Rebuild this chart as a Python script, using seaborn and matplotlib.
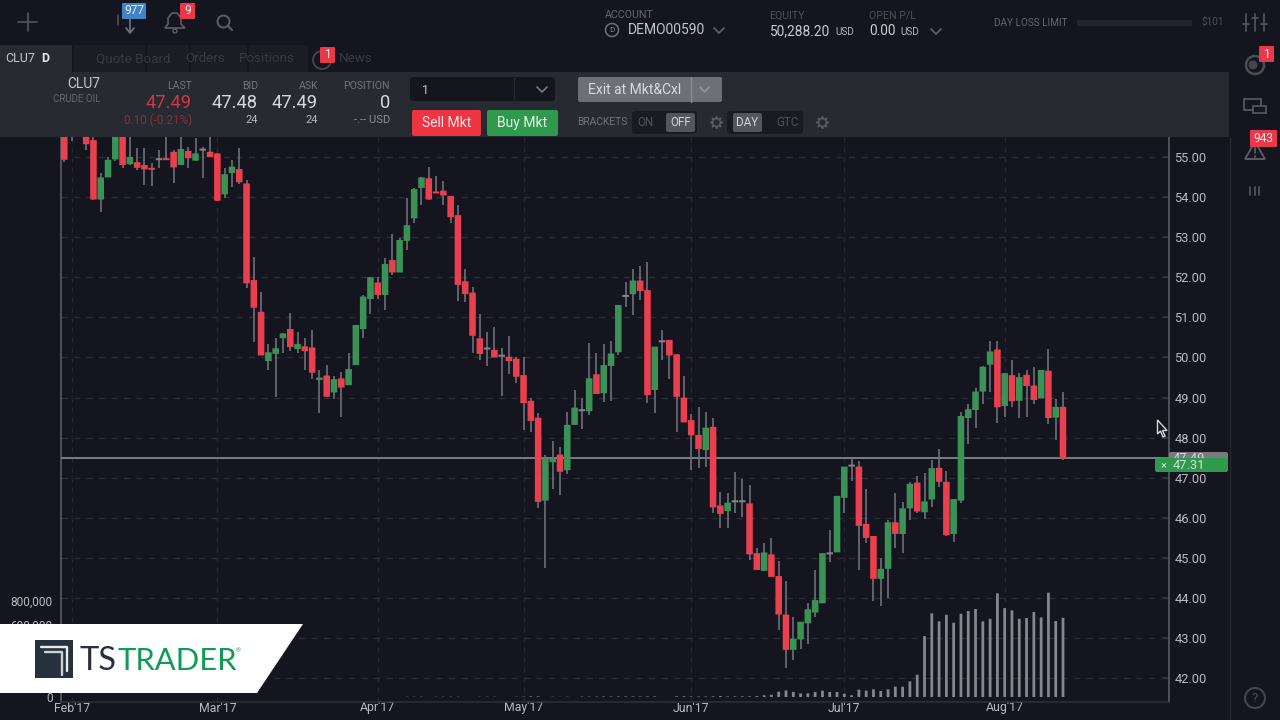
import numpy as np
import pandas as pd
import seaborn as sns
import matplotlib
matplotlib.use("Agg")
import matplotlib.pyplot as plt
from matplotlib.patches import Polygon, Rectangle, FancyBboxPatch, Circle

BG = "#14151e"
PANEL = "#272a31"
UP = "#3a9257"
DOWN = "#ea3f4e"
WICK = "#6f7079"
DOJI = "#84858c"
TXT = "#b9bbc0"

opens = [55.70,56.00,55.90,55.51,55.42,53.94,54.49,54.94,55.60,54.82,54.87,54.80,54.73,54.92,54.97,55.13,54.80,55.15,54.91,55.16,
         55.13,55.09,54.07,54.60,54.70,54.34,51.93,51.14,49.91,50.09,50.48,50.71,50.21,50.28,50.25,49.44,49.55,49.13,49.48,49.31,
         49.81,50.71,51.46,51.87,51.56,52.43,52.12,52.91,53.47,54.23,54.47,54.12,54.16,54.03,53.55,51.90,51.62,50.48,50.20,50.19,
         50.02,50.02,49.97,49.56,48.92,48.50,46.43,47.39,47.58,47.19,48.32,48.66,48.66,49.58,49.11,49.79,50.13,51.51,51.58,51.92,
         51.68,49.19,50.38,50.44,50.08,49.00,48.44,48.07,47.69,48.27,46.31,46.17,46.39,46.39,46.36,45.12,44.68,45.09,44.55,43.59,
         42.71,42.97,43.37,43.64,43.87,45.09,45.14,46.50,47.28,47.28,45.85,45.55,44.48,44.73,45.89,45.60,46.24,46.88,46.14,46.46,
         47.25,46.90,45.60,46.43,48.49,48.69,49.15,49.82,50.20,48.79,49.56,48.92,49.57,49.30,48.98,49.67,48.50,48.77]
closes = [54.93,55.80,55.80,55.32,53.94,54.49,54.93,55.60,54.80,55.00,54.73,54.69,54.68,54.92,54.92,54.74,55.20,54.97,55.09,55.16,
          55.00,53.91,54.57,54.76,54.37,51.85,51.24,50.05,50.13,50.23,50.60,50.26,50.34,50.16,49.62,49.50,49.02,49.46,49.25,49.71,
          50.81,51.52,52.00,51.56,52.33,52.12,52.93,53.30,54.20,54.49,53.94,54.09,54.04,53.50,51.81,51.58,50.54,50.09,50.20,50.00,
          50.02,49.91,49.52,48.86,48.42,46.40,47.47,47.50,47.15,48.32,48.75,48.66,49.48,49.09,49.81,50.10,51.31,51.51,51.92,51.66,
          49.06,50.27,50.38,50.05,49.02,48.38,48.06,47.72,48.25,46.26,46.10,46.38,46.39,46.39,45.09,44.70,45.14,44.53,43.59,42.71,
          42.99,43.41,43.72,43.95,45.12,45.09,46.55,47.28,47.28,45.80,45.50,44.48,44.73,45.89,45.60,46.24,46.85,46.16,46.41,47.24,
          46.90,45.57,46.47,48.54,48.71,49.15,49.77,50.15,48.76,49.61,48.91,49.51,49.29,48.94,49.69,48.49,48.77,47.48]
highs = [55.90,56.10,56.10,55.80,55.50,54.61,55.00,55.80,55.80,55.51,55.22,55.22,54.84,55.18,55.51,55.17,55.51,55.26,55.47,55.26,
         55.51,55.09,54.72,54.93,55.23,54.43,52.51,51.64,50.33,50.48,50.62,51.10,50.64,50.49,50.69,49.69,49.81,49.55,49.63,50.10,
         50.81,51.56,52.00,52.00,52.47,53.08,52.97,53.97,54.22,54.49,54.76,54.53,54.40,54.03,53.80,52.20,51.77,51.08,50.64,50.75,
         50.23,50.54,50.02,50.02,49.00,48.61,47.57,47.92,47.78,48.65,49.19,48.98,50.37,50.12,50.34,50.40,51.31,51.89,52.21,52.27,
         52.37,50.27,50.69,50.44,50.08,49.54,48.59,48.77,48.65,48.48,46.64,46.61,47.15,46.96,46.82,45.24,45.38,45.49,44.92,44.43,
         43.54,43.41,43.89,44.69,45.12,45.70,46.55,47.28,47.50,47.42,46.72,45.55,45.01,45.95,46.63,46.40,46.90,47.05,47.11,47.44,
         47.71,47.18,46.47,48.65,48.84,49.23,49.79,50.40,50.40,49.61,49.94,49.61,49.70,49.77,49.69,50.20,48.96,49.15]
lows = [54.88,55.40,55.60,55.17,53.94,53.64,54.49,54.90,54.72,54.80,54.68,54.30,54.28,54.72,54.92,54.34,54.80,54.72,54.91,54.47,
        55.00,53.91,53.99,54.26,54.32,51.74,50.38,50.05,49.69,49.02,50.11,50.15,50.11,49.69,49.46,48.62,49.02,48.96,48.52,49.31,
        49.81,50.48,51.08,51.46,51.18,52.06,52.12,52.68,53.35,53.80,53.94,54.09,53.80,53.35,51.42,51.38,50.10,49.95,49.79,50.00,
        49.04,49.60,49.36,48.19,48.15,46.24,44.74,46.71,46.57,47.09,48.32,48.22,48.57,49.09,48.90,48.92,50.05,51.27,51.06,51.43,
        48.87,48.62,49.94,49.46,48.15,48.38,47.19,47.24,47.28,46.11,45.74,45.74,46.11,46.03,44.95,44.70,44.68,44.53,43.20,42.25,
        42.46,42.73,42.85,43.54,43.87,44.91,45.14,46.13,46.93,44.70,45.37,43.94,43.80,44.00,45.24,45.13,45.95,46.11,45.97,46.28,
        46.78,45.55,45.39,46.36,47.84,48.23,48.84,49.15,48.36,48.52,48.76,48.48,48.52,48.84,48.98,48.33,47.94,47.45]
volumes = [0,0,0,0,0,0,0,0,0,0,0,0,0,0,0,0,0,0,0,0,
           0,0,0,0,0,0,0,0,0,0,0,0,0,0,0,0,0,0,0,0,
           0,0,0,0,0,0,0,2000,2000,2000,0,2000,2000,2000,2000,0,0,2000,2000,2000,
           0,0,2000,3000,5000,5000,0,2000,2000,2000,0,3000,3000,3000,4000,4000,4000,4000,4000,4000,
           4000,4000,0,0,5000,6000,4000,4000,4000,5000,8000,5000,5000,5000,5000,7000,
           14000,19000,44000,55000,42000,30000,30000,42000,53000,42000,42000,28000,14000,61000,53000,64000,50000,64000,86000,86000,
           130000,186000,508000,697000,630000,686000,619000,694000,716000,733000,630000,652000,864000,741000,722000,652000,658000,708000,663000,869000,
           633000,660000]
price_ticks = [42, 43, 44, 45, 46, 47, 48, 49, 50, 51, 52, 53, 54, 55]
month_pos = [1, 21, 43, 63, 86, 107, 129]
month_labels = ["Feb'17", "Mar'17", "Apr'17", "May'17", "Jun'17", "Jul'17", "Aug'17"]
vol_ticks = [0, 200000, 400000, 600000, 800000]
last_price = 47.49
order_price = 47.31

sns.set_theme(style="dark", rc={"axes.facecolor": BG, "figure.facecolor": BG})
plt.rcParams["font.family"] = ["Roboto", "DejaVu Sans"]

df = pd.DataFrame({"i": np.arange(len(opens)), "o": opens, "h": highs, "l": lows, "c": closes, "v": volumes})

W, H = 1280, 720
fig = plt.figure(figsize=(12.8, 7.2), dpi=100, facecolor=BG)
L, R, T, B = 61, 1169, 137, 701.5
rect = [L / W, 1 - B / H, (R - L) / W, (B - T) / H]

# the price pane holds the grid and lies under the volume pane; candles go on a third pane
ax = fig.add_axes(rect, facecolor=BG, zorder=1)
axv = fig.add_axes(rect, facecolor="none", zorder=2)
axc = fig.add_axes(rect, facecolor="none", zorder=3)

x0 = -0.45
x1 = x0 + (R - L) / 7.29
PX = 40.1
ymin, ymax = 55 - (B - 157) / PX, 55 + 20 / PX
ax.set_xlim(x0, x1)
ax.set_ylim(ymin, ymax)
axc.set_xlim(x0, x1)
axc.set_ylim(ymin, ymax)
vpx = 8333.0

# grid
ax.set_yticks(price_ticks)
ax.set_yticklabels([f"{p:.2f}" for p in price_ticks])
ax.set_xticks(month_pos)
ax.set_xticklabels(month_labels)
ax.yaxis.grid(True, color="#2c2d35", lw=0.9, ls=(0, (5, 5)))
ax.xaxis.grid(True, color="#26272f", lw=0.9, ls=(0, (4, 4)))
ax.set_axisbelow(True)
ax.yaxis.tick_right()
ax.tick_params(axis="y", length=4, direction="in", color="#35363e", labelcolor=TXT, labelsize=9.3, pad=4)
ax.tick_params(axis="x", length=0, labelcolor=TXT, labelsize=8.8, pad=0)

# volume with seaborn
sns.barplot(data=df, x="i", y="v", native_scale=True, ax=axv, color="#85868e",
            saturation=1, width=0.38, linewidth=0, errorbar=None)
for p in axv.patches:
    p.set_snap(False)
axv.set_xlim(x0, x1)
axv.set_ylim(-(B - 697) * vpx, (697 - T) * vpx)
axv.set_xlabel("")
axv.set_ylabel("")
axv.set_xticks([])
axv.set_yticks(vol_ticks + [900000])
axv.set_yticklabels([f"{v:,}" for v in vol_ticks] + [""])
axv.tick_params(axis="y", length=4, color="#3a3b43", labelcolor=TXT, labelsize=8.6, pad=2)
for tk in axv.yaxis.get_major_ticks()[:-1]:
    tk.tick1line.set_visible(False)

# candles
axc.vlines(df["i"], df["l"], df["h"], color=WICK, lw=1.2, zorder=3)
colors = []
for o, c in zip(df["o"], df["c"]):
    if abs(c - o) < 0.005:
        colors.append(DOJI)
    else:
        colors.append(UP if c > o else DOWN)
bot = np.minimum(df["o"], df["c"])
hgt = np.maximum(np.abs(df["c"] - df["o"]), 0.05)
bars = axc.bar(df["i"], hgt, bottom=bot, width=0.9, color=colors, zorder=4, linewidth=0)
for p in bars:
    p.set_snap(False)
axc.set_xticks([])
axc.set_yticks([])
axc.grid(False)

# last price line
axc.axhline(last_price, color="#85858c", lw=1.3, zorder=2.5)

for s in ["top", "right", "bottom", "left"]:
    ax.spines[s].set_visible(False)
    axc.spines[s].set_visible(False)
axv.spines["top"].set_visible(False)
axv.spines["left"].set_visible(True)
axv.spines["left"].set_color("#55565e")
axv.spines["left"].set_linewidth(1.3)
axv.spines["right"].set_visible(True)
axv.spines["right"].set_color("#55565e")
axv.spines["right"].set_linewidth(1.3)
axv.spines["bottom"].set_visible(True)
axv.spines["bottom"].set_color("#2f3037")
axv.spines["bottom"].set_linewidth(1.1)

# UI overlay in pixel coordinates
ui = fig.add_axes([0, 0, 1, 1], facecolor="none", zorder=5)
ui.set_xlim(0, W)
ui.set_ylim(H, 0)
ui.axis("off")

def box(x, y, w, h, c, z=1, r=0):
    if r:
        ui.add_patch(FancyBboxPatch((x + r, y + r), w - 2 * r, h - 2 * r, boxstyle=f"round,pad={r}", fc=c, ec="none", zorder=z))
    else:
        ui.add_patch(Rectangle((x, y), w, h, fc=c, ec="none", zorder=z))

def t(x, y, s, size=9, c=TXT, ha="left", w="normal", z=6, **k):
    ui.text(x, y, s, fontsize=size, color=c, ha=ha, va="center", fontweight=w, zorder=z, **k)

def ln(xs, ys, c="#5d5e65", lw=1.3, z=6):
    ui.plot(xs, ys, color=c, lw=lw, zorder=z, solid_capstyle="round")

# top bars
box(0, 0, W, 45, BG, 1)
box(0, 45, 1229, 27, BG, 1)
box(0, 45, 72, 27, PANEL, 2)
for xa, xb in [(74, 145), (147, 189), (191, 247), (249, 308)]:
    box(xa, 45, xb - xa, 27, "#1b1c24", 2)
box(0, 72, 1229, 65, PANEL, 2)
ui.plot([1229.5, 1229.5], [137, 720], color="#25262d", lw=1, zorder=3)

# left header
ln([18, 37], [22, 22], "#55565c", 1.2); ln([27.5, 27.5], [13, 31], "#55565c", 1.2)
ln([130, 130], [18, 32], "#74757c", 1.2)
ln([126, 130, 134], [28, 33, 28], "#74757c", 1.2)
ln([118, 118], [15, 25], "#4c4d53", 1.2)
box(122, 3, 24, 16, "#3f83c5", 7, 1)
t(134, 11, "977", 8.6, "#e8edf2", "center", z=8)
ui.add_patch(Polygon([[165, 28], [168, 24], [168, 18], [172, 13], [177, 13], [181, 18], [181, 24], [185, 28]], closed=True, fc="none", ec="#5d5e65", lw=1.2, zorder=6))
ui.add_patch(Circle((175, 31), 2, fc="none", ec="#5d5e65", lw=1, zorder=6))
box(180, 3, 15, 16, "#e8394a", 7, 1)
t(187.5, 11, "9", 8.6, "#f5e8e8", "center", z=8)
ui.add_patch(Circle((223.5, 21.5), 6, fc="none", ec="#5d5e65", lw=1.4, zorder=6))
ln([228, 232], [26, 30], "#5d5e65", 1.5)

# account block
t(605, 15.5, "ACCOUNT", 7.7, "#65666d")
ui.add_patch(Circle((612, 30), 6.5, fc="none", ec="#6f7077", lw=1.1, zorder=6))
t(612, 30, "D", 6, "#80818a", "center")
t(628, 30, "DEMO00590", 10, "#c2c4c9")
ln([714, 719, 724], [28, 33, 28])
t(769, 15.5, "EQUITY", 7.6, "#4f5056")
t(769, 31, "50,288.20", 9.9, "#c9cbd0")
t(835, 32, "USD", 7.2, "#b4b6bb")
t(869, 15.5, "OPEN P/L", 7.7, "#4f5056")
t(869, 31, "0.00", 9.9, "#c9cbd0")
t(900, 32, "USD", 7.2, "#b4b6bb")
ln([931, 936, 941], [29, 34, 29])
t(994, 23, "DAY LOSS LIMIT", 7.2, "#65666d")
box(1077, 20, 115, 6, "#24252c", 6)
t(1202, 22, "$101", 7.2, "#4f5056")

# sliders icon
for xx in [1246, 1255, 1264]:
    ln([xx, xx], [14, 31], "#55565c", 1.2)
for xx, yy in [(1246, 24), (1255, 18), (1264, 24)]:
    ln([xx - 3, xx + 3], [yy, yy], "#55565c", 1.2)

# tabs
t(5, 59, "CLU7", 9, "#c6c8cc")
t(41, 59, "D", 9, "#e5e6e8", w="bold")
t(96, 59, "Quote Board", 9.6, "#383941")
t(185, 59, "Orders", 9.6, "#383941")
t(239, 59, "Positions", 9.6, "#383941")
t(339, 59, "News", 9.6, "#383941")
ui.add_patch(Circle((322, 60), 9, fc="none", ec="#45464e", lw=1.3, zorder=6))
box(320, 47, 15, 16, "#e8394a", 7, 1)
t(327.5, 55, "1", 8.6, "#f5e8e8", "center", z=8)

# quote panel
t(100, 84.5, "CLU7", 10, "#c6c8cc", "right")
t(100, 99.5, "CRUDE OIL", 7, "#65666d", "right")
for xr, lab in [(192, "LAST"), (258, "BID"), (318, "ASK"), (390, "POSITION")]:
    t(xr, 86, lab, 7.6, "#74757c", "right")
t(192, 103, "47.49", 13.2, "#d63546", "right")
t(258, 103, "47.48", 13.2, "#d6d8dc", "right")
t(318, 103, "47.49", 13.2, "#d6d8dc", "right")
t(390, 103, "0", 13.2, "#d6d8dc", "right")
t(192, 120, "0.10 (-0.21%)", 8.4, "#8c2f3a", "right")
t(258, 120, "24", 8, "#b8bac0", "right")
t(318, 120, "24", 8, "#b8bac0", "right")
t(390, 120, "-.-- USD", 8, "#8e9096", "right")

box(410, 77, 145, 24, "#15161d", 3, 3)
ln([514, 514], [78, 100], "#27282f", 1)
t(422, 90, "1", 8.8, "#c6c8cc")
ln([537, 542, 547], [87, 92, 87], "#7a7b82", 1.2)
box(412, 110, 69, 26, "#ec3443", 3, 2)
t(446.5, 123, "Sell Mkt", 10, "#f6e6e6", "center")
box(487, 110, 71, 26, "#2f9a4e", 3, 2)
t(522.5, 123, "Buy Mkt", 10, "#e6f4ea", "center")
box(578, 77, 144, 25, "#6e7077", 3, 2)
ln([691, 691], [77, 102], "#8a8b91", 1)
t(634.5, 89.5, "Exit at Mkt&Cxl", 10, "#d9dadd", "center")
ln([700, 704.5, 709], [87, 92, 87], "#94959b", 1.2)
t(577, 122, "BRACKETS", 7.4, "#74757c")
box(632, 111, 65, 23, "#1a1b22", 3, 3)
box(666, 113, 29, 19, "#54565d", 4, 2)
t(646, 122, "ON", 8.4, "#50515a", "center")
t(681, 122, "OFF", 8.4, "#d5d6d9", "center")
box(727, 111, 76, 23, "#1a1b22", 3, 3)
box(733, 113, 29, 19, "#54565d", 4, 2)
t(747.5, 122, "DAY", 8.4, "#d5d6d9", "center")
t(787, 122, "GTC", 8.4, "#50515a", "center")
for cx in [716, 822]:
    ui.plot([cx], [122], marker=(8, 1, 0), ms=9, color="#5c5d64", zorder=6)
    ui.plot([cx], [122], marker="o", ms=3.5, color=PANEL, zorder=7)

# right rail
ui.add_patch(Circle((1255, 65), 9, fc="none", ec="#4d4e54", lw=1.8, zorder=6))
ui.add_patch(Circle((1253, 65), 4.5, fc="#45464c", ec="none", zorder=6))
box(1259, 46, 15, 16, "#e8394a", 7, 1)
t(1266.5, 54, "1", 8.6, "#f5e8e8", "center", z=8)
ui.add_patch(Rectangle((1244, 99), 17, 11, fc="none", ec="#5a5b62", lw=1.2, zorder=6))
ui.add_patch(Rectangle((1253, 106), 13, 7, fc=BG, ec="#5a5b62", lw=1.2, zorder=6))
ui.add_patch(Polygon([[1255, 142], [1245, 159], [1265, 159]], closed=True, fc="none", ec="#5a5b62", lw=1.4, zorder=6))
ln([1255, 1255], [148, 153], "#5a5b62", 1.3); ln([1255, 1255], [156, 156.5], "#5a5b62", 1.3)
box(1250, 130, 27, 17, "#e8394a", 7, 1)
t(1263.5, 138.5, "943", 8.6, "#f5e8e8", "center", z=8)
for xx in [1250, 1255, 1259]:
    ln([xx, xx], [187, 195], "#4d4e54", 1.4)
ui.add_patch(Circle((1255, 698), 10, fc="none", ec="#45464c", lw=1.5, zorder=6))
t(1255, 698, "?", 9.5, "#4d4e54", "center")

# price tags
box(1169, 452, 59, 12, "#7a7b80", 6, 2)
t(1173, 458, f"{last_price:.2f}", 9.3, "#d5d6d9", z=7)
box(1155, 458, 73, 14, "#2f9a4e", 8, 2)
t(1161, 465.5, "×", 8, "#d9ead9", z=9)
t(1173, 465.5, f"{order_price:.2f}", 9.3, "#cbe5d0", z=9)

# cursor
ui.add_patch(Polygon([[1157.5, 420], [1157.5, 434], [1160.5, 431], [1163, 437], [1165, 436], [1162.5, 430.5], [1167, 430.5]], closed=True,
                     fc="#14151e", ec="#d8d8da", lw=1, zorder=9))

# logo
ui.add_patch(Polygon([[0, 624], [303, 624], [257, 693], [0, 693]], closed=True, fc="white", ec="none", zorder=10))
box(35, 640, 37.5, 38, "#25323d", 11)
ln([41, 67, 67], [647, 647, 671], "#e8eaec", 1.7, 12)
ln([45, 62, 62], [652, 652, 675], "#cdd2d6", 1.7, 12)
ui.text(79.5, 661, "TS", fontsize=23.5, color="#262f3b", family="Lato", va="center", zorder=12)
ui.text(117, 661, "TRADER", fontsize=22.2, color="#129a57", family="Lato", va="center", zorder=12)
ui.text(236, 651, "®", fontsize=4.5, color="#129a57", va="center", zorder=12)

fig.savefig("out.png", dpi=100, facecolor=BG)
